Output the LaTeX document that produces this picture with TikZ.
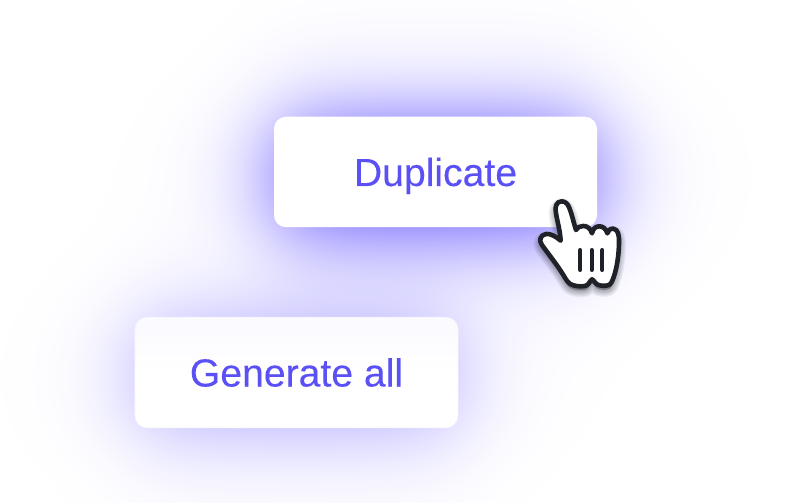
\documentclass[tikz,border=0pt]{standalone}
\usepackage{fontspec}
\setmainfont{Liberation Sans}
\definecolor{labelc}{HTML}{5A50F5}
\definecolor{inkc}{HTML}{1E2228}
\tikzset{
  buttonbox/.style={rounded corners=12bp,minimum width=323bp,minimum height=110.5bp,inner sep=0pt,text height=28bp,text depth=0bp,text=labelc,font=\fontsize{39.3}{42}\selectfont\addfontfeature{FakeBold=0.15}},
  barline/.style={draw=inkc,line width=4bp,line cap=round},
}
% one soft edge: #1 stack index, #2 edge position, #3 sign, #4 softness
\def\softedge#1#2#3#4{#1 index #2 sub #3 mul #4 div neg dup 30 gt {pop 30} if 2.71828 exch exp 1 add 1 exch div }
% one glow: #1 extras on stack, #2 x0, #3 x1, #4 y0, #5 y1, #6 softness, #7 strength
\def\glowterm#1#2#3#4#5#6#7{%
  \softedge{\the\numexpr#1+1\relax}{#2}{1}{#6}%
  \softedge{\the\numexpr#1+2\relax}{#3}{-1}{#6}mul %
  \softedge{\the\numexpr#1+1\relax}{#4}{1}{#6}mul %
  \softedge{\the\numexpr#1+1\relax}{#5}{-1}{#6}mul #7 mul }
\pgfdeclarefunctionalshading{glowfield}{\pgfpointorigin}{\pgfpoint{800bp}{503bp}}{}{%
  \glowterm{0}{274}{597}{271}{381}{27}{1.05}%
  \glowterm{1}{135}{458}{72}{183}{27}{0.52}add %
  dup 0.627 mul 1 exch sub exch 0.686 mul 1 exch sub 1 5 -2 roll pop pop }
\begin{document}
\begin{tikzpicture}[x=1bp,y=-1bp]
\useasboundingbox (0,0) rectangle (800,503);
\node[inner sep=0pt,outer sep=0pt] (field) at (400,251.5) {\pgfuseshading{glowfield}};
% buttons
\node[buttonbox,fill=white] (dup) at (435.5,172) {Duplicate};
\node[buttonbox,top color=labelc!3!white,bottom color=white,middle color=white,draw=labelc!6!white,line width=0.5bp] (gen) at (296.5,372.5) {Generate all};
% cursor
\begin{scope}[shift={(520,180)},scale=1/3]
  \def\handpath{(125,64)
    .. controls (108,64) and (104,82) .. (108,100)
    .. controls (112,125) and (120,150) .. (122,182)
    .. controls (108,170) and (92,160) .. (78,162)
    .. controls (60,165) and (56,182) .. (66,195)
    .. controls (85,222) and (112,255) .. (130,285)
    .. controls (138,298) and (144,312) .. (160,316)
    .. controls (175,320) and (198,322) .. (205,312)
    .. controls (210,306) and (212,300) .. (216,298)
    .. controls (222,300) and (226,314) .. (238,316)
    .. controls (250,318) and (268,320) .. (274,308)
    .. controls (286,285) and (296,240) .. (297,190)
    .. controls (298,165) and (294,148) .. (280,146)
    .. controls (270,145) and (264,152) .. (262,160)
    .. controls (258,146) and (248,138) .. (236,139)
    .. controls (224,140) and (218,150) .. (216,160)
    .. controls (212,146) and (202,138) .. (190,138)
    .. controls (180,138) and (172,142) .. (168,150)
    .. controls (160,125) and (155,100) .. (148,84)
    .. controls (144,72) and (136,64) .. (125,64) -- cycle}
  \foreach \s/\o in {14/0.05,12/0.05,10/0.05,8/0.06,6/0.06,4/0.06,2/0.06}{
    \fill[inkc,fill opacity=\o,draw=inkc,draw opacity=\o,line width=\s bp,line join=round,yshift=-12bp] \handpath;
  }
  \filldraw[fill=white,draw=inkc,line width=4.6bp,line join=round] \handpath;
  \draw[barline] (181,210) -- (181,270);
  \draw[barline] (215,210) -- (215,270);
  \draw[barline] (247,210) -- (247,270);
\end{scope}
\end{tikzpicture}
\end{document}
